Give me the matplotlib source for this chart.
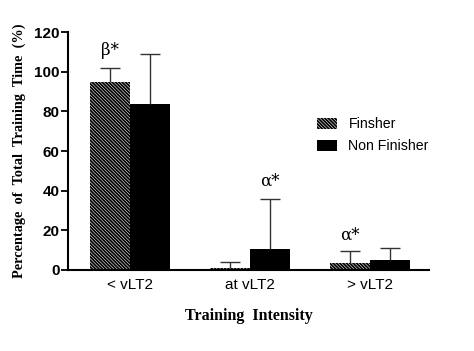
import numpy as np
import matplotlib.pyplot as plt

# data
categories = ["< vLT2", "at vLT2", "> vLT2"]
finisher = [95, 1.0, 3.5]
finisher_err = [6.7, 3.2, 6.0]
non_finisher = [83.5, 10.6, 4.8]
non_finisher_err = [25.3, 25.2, 6.4]
labels = ["β*", "α*", "α*"]
label_y = [110.5, 45, 17.5]
label_series = [0, 1, 0]  # 0 = finisher bar, 1 = non finisher bar

plt.rcParams["hatch.linewidth"] = 1.3

fig = plt.figure(figsize=(4.74, 3.51), dpi=100)
ax = fig.add_axes([0.1435, 0.2308, 0.7617, 0.678])

x = np.arange(len(categories))
w = 0.333

ax.bar(x - w / 2, finisher, w, color="white", edgecolor="black", linewidth=0,
       hatch="\\" * 10, label="Finsher")
ax.bar(x + w / 2, non_finisher, w, color="black", edgecolor="black", linewidth=0,
       label="Non Finisher")

for xs, ys, es in [(x - w / 2, finisher, finisher_err), (x + w / 2, non_finisher, non_finisher_err)]:
    _, caps, _ = ax.errorbar(xs, ys, yerr=[np.zeros(len(es)), es], fmt="none",
                             ecolor="#333333", elinewidth=1, capsize=7, capthick=1)
    caps[0].set_visible(False)

for i, (t, ty, s) in enumerate(zip(labels, label_y, label_series)):
    xpos = x[i] - w / 2 if s == 0 else x[i] + w / 2
    ax.text(xpos, ty, t, ha="center", va="center", fontsize=12, family="DejaVu Serif")

ax.set_xlim(-0.517, 2.49)
ax.set_ylim(0, 120)
ax.set_yticks([0, 20, 40, 60, 80, 100, 120])
ax.set_xticks(x)
ax.set_xticklabels(categories, fontsize=11, family="Liberation Sans")
for lab in ax.get_yticklabels():
    lab.set_fontweight("bold")
    lab.set_family("Liberation Sans")
    lab.set_fontsize(11)
ax.tick_params(axis="x", length=0, pad=6)
ax.tick_params(axis="y", length=5, width=1.3, pad=1)

ax.spines["top"].set_visible(False)
ax.spines["right"].set_visible(False)
ax.spines["left"].set_linewidth(1.5)
ax.spines["bottom"].set_linewidth(1.5)

ax.set_ylabel("Percentage  of  Total  Training  Time  (%)", fontsize=10.3,
              fontweight="bold", family="Liberation Serif", labelpad=6)
ax.set_xlabel("Training  Intensity", fontsize=11.5, fontweight="bold",
              family="Liberation Serif", labelpad=11)

ax.legend(loc="upper left", bbox_to_anchor=(0.655, 0.695), frameon=False,
          prop={"family": "Liberation Sans", "size": 10.2},
          handlelength=1.4, handleheight=0.8, labelspacing=0.55)

fig.savefig("out.png", dpi=100)
